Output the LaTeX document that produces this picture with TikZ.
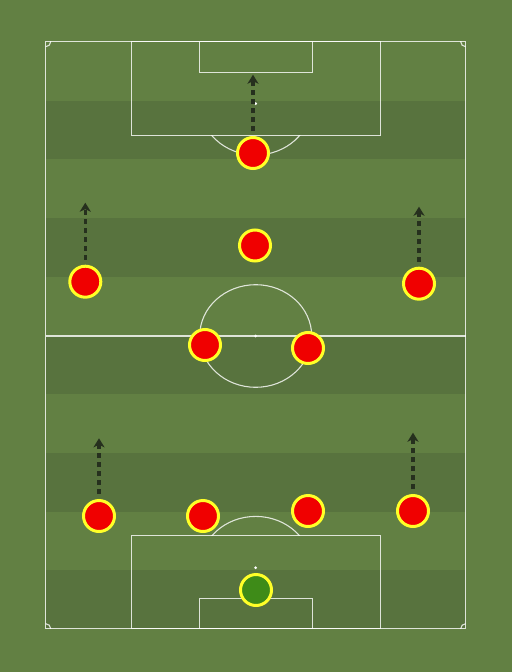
\documentclass[tikz,border=0pt]{standalone}
\usetikzlibrary{arrows.meta,shadows}
\definecolor{grassL}{RGB}{98,128,67}
\definecolor{grassD}{RGB}{88,115,62}
\definecolor{shirt}{RGB}{240,0,0}
\definecolor{rim}{RGB}{255,255,40}
\definecolor{keeper}{RGB}{62,139,24}
\definecolor{runclr}{RGB}{38,48,30}
\tikzset{
  pline/.style={draw=white, draw opacity=0.8, line width=1.1pt},
  stripe/.style={fill=grassD},
  spot/.style={fill=white},
  player/.style={circle, fill=shirt, draw=rim, line width=3pt, minimum size=31pt, inner sep=0pt,
    drop shadow={opacity=0.25, shadow xshift=0.6pt, shadow yshift=-1pt}},
  gk/.style={player, fill=keeper},
  runarrow/.style={draw=runclr, line width=3.2pt, dash pattern=on 5pt off 4pt,
    -{Stealth[length=9pt,width=11pt,inset=2.5pt]}, shorten <=5pt},
}
\begin{document}
\begin{tikzpicture}[x=1pt,y=-1pt]
\useasboundingbox (0,0) rectangle (512,672);
\fill[grassL] (0,0) rectangle (512,672);
% stripes
\foreach \a/\b in {100.7/159.4, 218.1/276.8, 335.5/394.2, 452.9/511.6, 570.3/628.7}
  \fill[stripe] (45.7,\a) rectangle (465.7,\b);
% outline
\draw[pline] (45.7,41.7) rectangle (465.7,628.7);
\draw[pline] (45.7,336) -- (465.7,336);
\draw[pline] (255.7,336) ellipse [x radius=56pt, y radius=51.3pt];
\fill[spot] (255.7,336) circle [radius=1.5pt];
% top boxes
\draw[pline] (131.3,41.7) rectangle (380.7,135.3);
\draw[pline] (199.3,41.7) rectangle (312.3,72.7);
\fill[spot] (255.7,103.7) circle [radius=1.5pt];
\begin{scope}
  \clip (0,135.3) rectangle (512,300);
  \draw[pline] (255.7,103.7) ellipse [x radius=56pt, y radius=51.3pt];
\end{scope}
% bottom boxes
\draw[pline] (131.3,535.7) rectangle (380.7,628.7);
\draw[pline] (199.3,598.3) rectangle (312.3,628.7);
\fill[spot] (255.7,567.7) circle [radius=1.5pt];
\begin{scope}
  \clip (0,340) rectangle (512,535.7);
  \draw[pline] (255.7,567.7) ellipse [x radius=56pt, y radius=51.3pt];
\end{scope}
% corner arcs
\begin{scope}
  \clip (45.7,41.7) rectangle (465.7,628.7);
  \foreach \cx/\cy in {45.7/41.7, 465.7/41.7, 45.7/628.7, 465.7/628.7}
    \draw[pline] (\cx,\cy) circle [radius=5pt];
\end{scope}
% players
\node[player] (st) at (253,153) {};
\node[player] (am) at (255,245.5) {};
\node[player] (lw) at (85.3,281.7) {};
\node[player] (rw) at (419,283.7) {};
\node[player] (lcm) at (205,345) {};
\node[player] (rcm) at (308,348) {};
\node[player] (lb) at (99,516) {};
\node[player] (lcb) at (203,516) {};
\node[player] (rcb) at (308,511) {};
\node[player] (rb) at (413,511) {};
\node[gk] (gk) at (256,590) {};
% runs
\coordinate (stT) at (253,74.7);
\coordinate (lwT) at (85.3,202.7);
\coordinate (rwT) at (419,206.7);
\coordinate (lbT) at (99,438.3);
\coordinate (rbT) at (413,432.7);
\draw[runarrow] (st) -- (stT);
\draw[runarrow] (lw) -- (lwT);
\draw[runarrow] (rw) -- (rwT);
\draw[runarrow] (lb) -- (lbT);
\draw[runarrow] (rb) -- (rbT);
\end{tikzpicture}
\end{document}
